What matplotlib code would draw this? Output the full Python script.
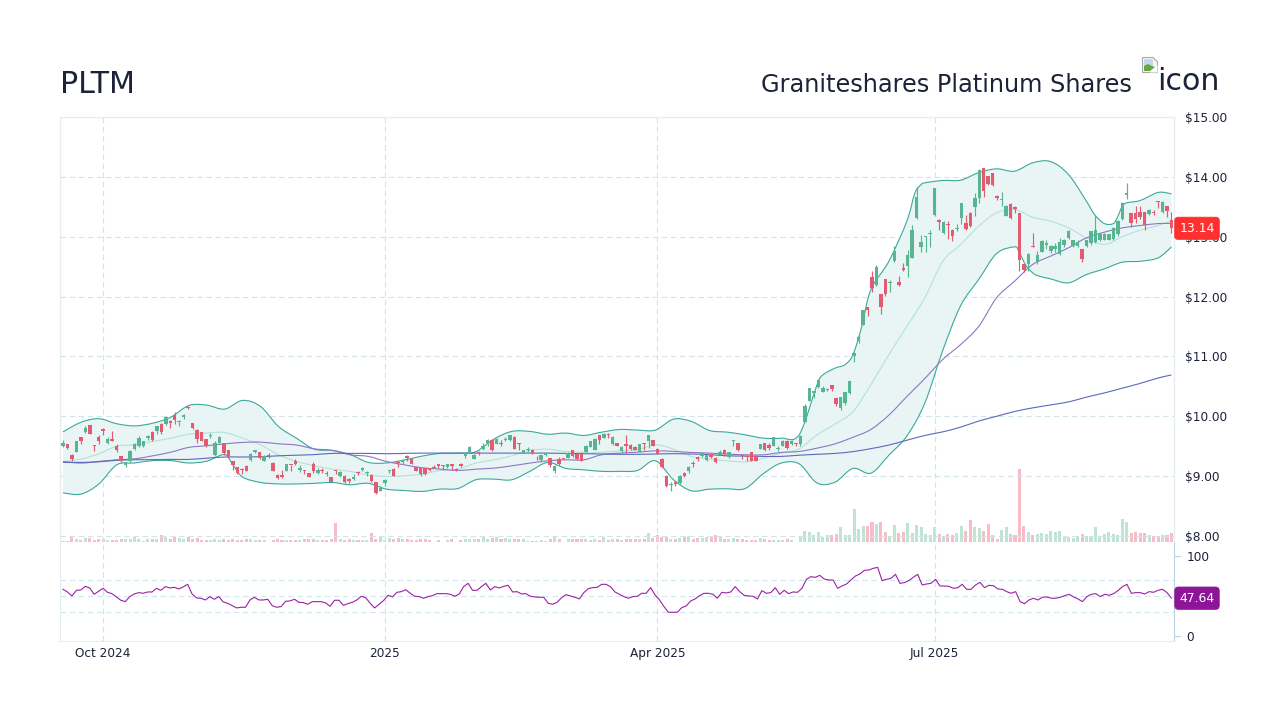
import numpy as np
import matplotlib
matplotlib.use("Agg")
import matplotlib.pyplot as plt
from matplotlib.patches import Polygon, Rectangle, PathPatch
from matplotlib.path import Path

ticker = "PLTM"
fund_name = "Graniteshares Platinum Shares"
month_labels = ["Oct 2024", "2025", "Apr 2025", "Jul 2025"]
month_pos = [9, 72, 133, 195]
price_ticks = [8, 9, 10, 11, 12, 13, 14, 15]
last_price = 13.14
last_rsi = 47.64

opens = [9.50,9.54,9.35,9.40,9.65,9.73,9.85,9.52,9.65,9.79,
9.56,9.62,9.51,9.34,9.18,9.25,9.45,9.50,9.51,9.63,
9.73,9.75,9.87,9.87,9.92,10.03,9.90,9.98,10.16,9.88,
9.77,9.73,9.62,9.67,9.36,9.56,9.55,9.43,9.25,9.15,
9.12,9.17,9.27,9.40,9.40,9.26,9.36,9.22,9.02,9.02,
9.08,9.19,9.26,9.10,9.09,9.05,9.21,9.06,9.11,9.06,
8.99,9.09,9.00,9.01,8.96,8.96,9.06,9.11,9.05,9.02,
8.90,8.76,8.89,9.08,9.12,9.24,9.23,9.33,9.29,9.16,
9.14,9.14,9.13,9.16,9.20,9.19,9.15,9.20,9.12,
9.20,9.33,9.41,9.29,9.40,9.45,9.55,9.60,9.54,9.56,
9.60,9.60,9.65,9.55,9.39,9.43,9.43,9.34,9.27,9.36,
9.30,9.09,9.28,9.30,9.31,9.44,9.37,9.39,9.40,9.49,
9.44,9.68,9.64,9.71,9.53,9.55,9.42,9.53,9.52,9.49,
9.41,9.55,9.59,9.60,9.46,9.29,9.00,8.85,8.91,8.89,
9.06,9.08,9.22,9.32,9.34,9.27,9.37,9.31,9.36,9.44,
9.32,9.59,9.55,9.35,9.34,9.40,9.34,9.46,9.55,9.52,
9.51,9.45,9.51,9.59,9.53,9.55,9.54,9.91,
10.26,10.39,10.49,10.41,10.44,10.52,10.31,10.14,10.23,10.39,11.01,11.25,
11.52,11.83,12.32,12.19,12.05,12.29,12.23,12.60,12.24,12.47,12.51,12.65,13.32,12.83,12.99,13.04,13.36,13.28,13.06,13.20,13.11,13.13,13.32,13.23,13.39,13.50,13.65,14.15,14.02,
14.06,13.68,13.61,13.35,13.55,13.50,13.40,12.54,12.54,12.85,12.57,12.75,12.86,12.76,12.79,12.71,12.87,12.98,12.84,12.85,12.79,12.84,12.90,12.91,12.94,12.95,12.95,12.96,13.04,13.30,13.70,13.40,13.40,13.42,13.41,13.38,13.41,13.59,13.41,13.51,13.28]

highs = [9.60,9.54,9.37,9.59,9.66,9.83,9.86,9.52,9.68,9.80,
9.65,9.75,9.54,9.34,9.23,9.43,9.55,9.67,9.59,9.69,
9.76,9.84,9.88,10.00,9.94,10.07,9.94,10.04,10.18,9.89,
9.78,9.74,9.62,9.72,9.58,9.67,9.56,9.44,9.26,9.16,
9.14,9.19,9.38,9.44,9.41,9.35,9.38,9.23,9.04,9.11,
9.21,9.19,9.29,9.18,9.11,9.06,9.23,9.13,9.14,9.08,
8.99,9.11,9.08,9.02,8.97,9.04,9.08,9.15,9.09,9.03,
8.91,8.84,8.95,9.11,9.13,9.25,9.28,9.35,9.30,9.16,
9.15,9.14,9.14,9.19,9.20,9.19,9.21,9.20,9.14,
9.22,9.39,9.50,9.37,9.42,9.55,9.62,9.61,9.64,9.60,
9.65,9.69,9.67,9.56,9.44,9.49,9.45,9.34,9.36,9.40,
9.30,9.18,9.32,9.30,9.40,9.44,9.38,9.40,9.52,9.59,
9.63,9.69,9.72,9.72,9.67,9.56,9.50,9.69,9.54,9.50,
9.54,9.55,9.69,9.61,9.47,9.30,9.02,8.90,8.92,9.02,
9.07,9.17,9.25,9.33,9.40,9.37,9.39,9.32,9.44,9.45,
9.41,9.61,9.56,9.35,9.35,9.41,9.35,9.54,9.56,9.55,
9.65,9.50,9.60,9.60,9.60,9.55,9.69,10.20,
10.48,10.42,10.61,10.51,10.48,10.52,10.31,10.33,10.41,10.59,11.07,11.36,
11.78,11.83,12.42,12.53,12.05,12.30,12.27,12.85,12.35,12.56,12.78,13.20,13.83,13.03,13.02,13.12,13.82,13.30,13.27,13.27,13.13,13.22,13.57,13.36,13.42,13.73,14.13,14.15,14.02,
14.06,13.69,13.74,13.53,13.56,13.52,13.40,12.55,12.73,13.07,12.76,12.94,12.94,12.86,12.89,12.98,12.96,13.12,12.95,12.95,12.80,12.95,13.10,13.37,13.07,13.07,13.05,13.17,13.28,13.58,13.90,13.40,13.51,13.51,13.41,13.47,13.45,13.60,13.59,13.51,13.42]

lows = [9.49,9.45,9.26,9.40,9.54,9.72,9.70,9.42,9.54,9.69,
9.53,9.59,9.40,9.24,9.15,9.24,9.44,9.49,9.49,9.60,
9.59,9.70,9.71,9.85,9.81,9.87,9.84,9.95,10.12,9.78,
9.55,9.58,9.49,9.63,9.34,9.55,9.35,9.30,9.10,9.04,
9.03,9.08,9.26,9.38,9.29,9.25,9.31,9.08,8.95,8.97,
9.08,9.08,9.19,9.07,9.03,8.98,9.06,9.03,9.05,9.00,
8.90,9.03,8.99,8.89,8.89,8.94,9.02,9.09,9.01,8.91,
8.71,8.75,8.84,9.06,9.00,9.15,9.21,9.25,9.20,9.08,
9.01,9.02,9.08,9.13,9.14,9.11,9.14,9.11,9.09,
9.15,9.30,9.40,9.28,9.35,9.44,9.50,9.42,9.53,9.51,
9.59,9.59,9.45,9.44,9.38,9.40,9.37,9.27,9.24,9.33,
9.16,9.05,9.18,9.29,9.30,9.32,9.27,9.25,9.39,9.48,
9.43,9.54,9.63,9.64,9.52,9.50,9.41,9.39,9.44,9.43,
9.40,9.44,9.47,9.50,9.37,9.13,8.82,8.75,8.84,8.87,
8.98,9.06,9.15,9.25,9.32,9.26,9.30,9.22,9.35,9.34,
9.31,9.51,9.42,9.28,9.26,9.26,9.25,9.45,9.42,9.44,
9.51,9.42,9.50,9.46,9.52,9.50,9.51,9.90,
10.25,10.31,10.48,10.40,10.42,10.42,10.17,10.10,10.19,10.38,10.90,11.23,
11.52,11.67,12.07,12.17,11.71,12.01,12.07,12.57,12.17,12.42,12.33,12.64,13.30,12.75,12.75,12.83,13.34,13.11,13.04,12.96,12.93,13.09,13.22,13.12,13.17,13.34,13.57,13.66,13.86,
13.85,13.62,13.51,13.34,13.30,13.40,12.42,12.41,12.42,12.82,12.55,12.74,12.79,12.73,12.74,12.70,12.83,12.96,12.83,12.83,12.57,12.83,12.86,12.89,12.93,12.94,12.94,12.94,13.02,13.28,13.63,13.17,13.23,13.30,13.11,13.36,13.37,13.48,13.39,13.33,13.07]

closes = [9.56,9.47,9.29,9.58,9.58,9.81,9.71,9.50,9.59,9.76,
9.62,9.59,9.43,9.25,9.22,9.42,9.54,9.64,9.58,9.67,
9.61,9.84,9.74,9.98,9.89,9.94,9.91,10.02,10.14,9.80,
9.62,9.59,9.50,9.69,9.55,9.65,9.38,9.32,9.18,9.05,
9.11,9.09,9.37,9.44,9.30,9.34,9.34,9.09,8.97,8.99,
9.21,9.18,9.20,9.14,9.08,8.99,9.08,9.10,9.09,9.04,
8.91,9.08,9.07,8.90,8.92,8.98,9.05,9.13,9.07,8.92,
8.72,8.80,8.94,9.10,9.01,9.22,9.27,9.31,9.21,9.08,
9.04,9.04,9.10,9.14,9.17,9.17,9.20,9.17,9.10,
9.17,9.38,9.49,9.36,9.38,9.50,9.61,9.44,9.62,9.54,
9.62,9.69,9.46,9.54,9.44,9.45,9.38,9.33,9.35,9.38,
9.18,9.17,9.21,9.29,9.39,9.33,9.29,9.26,9.50,9.59,
9.62,9.61,9.70,9.69,9.66,9.51,9.49,9.50,9.46,9.44,
9.53,9.54,9.69,9.51,9.37,9.15,8.84,8.86,8.87,9.01,
9.00,9.15,9.21,9.29,9.39,9.36,9.32,9.24,9.41,9.37,
9.40,9.60,9.44,9.34,9.32,9.26,9.26,9.53,9.43,9.47,
9.65,9.47,9.59,9.47,9.59,9.54,9.67,10.18,
10.47,10.42,10.61,10.48,10.46,10.46,10.21,10.32,10.41,10.59,11.05,11.33,
11.77,11.78,12.15,12.49,11.83,12.04,12.25,12.76,12.20,12.45,12.70,13.12,13.66,12.92,13.00,13.07,13.81,13.24,13.25,13.19,13.01,13.15,13.56,13.13,13.18,13.65,14.12,13.76,13.88,
13.87,13.64,13.62,13.52,13.32,13.47,12.61,12.45,12.71,12.83,12.70,12.93,12.90,12.84,12.84,12.91,12.95,13.10,12.94,12.91,12.63,12.94,13.09,13.12,13.05,13.05,13.04,13.15,13.27,13.57,13.73,13.23,13.30,13.33,13.20,13.44,13.39,13.58,13.58,13.43,13.14]

volumes_k = [4,4,14,8,5,11,11,5,8,8,
5,5,5,8,8,8,14,10,4,8,
8,10,22,16,8,14,11,8,14,8,
11,5,5,5,8,5,8,5,8,5,
5,8,8,5,5,5,1,5,8,5,
5,5,5,5,8,8,8,5,5,5,
8,58,8,5,8,5,5,5,5,26,
8,16,5,11,8,11,8,8,5,5,
8,8,5,1,5,
1,5,8,1,5,10,8,8,10,16,
8,11,14,8,11,8,10,10,8,4,
4,4,7,4,8,16,8,1,8,8,
8,8,8,5,8,5,16,5,8,8,
5,8,8,8,8,8,26,11,20,14,
16,8,8,11,14,19,8,11,11,16,
16,22,14,8,8,11,8,8,5,5,
5,11,8,5,5,5,5,8,5,1,
15,32,29,20,29,15,22,20,23,44,
20,20,98,38,47,47,59,53,59,29,
17,50,26,29,56,26,50,44,23,20,
44,23,17,23,20,26,47,32,65,44,
41,32,53,20,8,35,44,23,20,218,
47,29,20,23,26,23,32,29,32,14,
14,11,17,23,17,17,44,17,23,29,
23,20,68,59,26,29,26,26,20,17,
17,20,20,26]

rsi = [58.75,55.4,50.4,57.5,57.9,62.5,60.4,52.5,56.25,60,55,53.3,49.2,45,43.3,49.6,52.9,54.6,53.75,55.4,55.4,60,57.5,62.1,60.4,61.25,59.2,61.7,65,52.9,47.9,47.5,45.4,49.6,46.25,49.6,42.9,41.25,38.3,35.4,36.25,36.25,45.4,48.75,45.4,45.4,46.25,38.3,36.25,37.1,43.75,44.2,46.25,42.5,42.1,40,43.3,43.3,43.3,41.7,37.5,45,45,38.75,40.8,42.5,45.4,50,48.3,41.25,35.4,40,44.6,51.25,49.2,55,55.8,58.3,53.75,50,49.6,47.5,49.6,50.8,53.3,53.3,53.3,52.5,50,52.9,62.1,66.25,57.5,57.5,62.1,66.25,57.9,62.1,60.4,62.5,63.75,55.4,55.8,52.9,53.3,50,49.2,48.75,48.75,41.25,40,42.5,48.3,52.1,50.4,48.75,46.7,54.6,59.6,60.8,61.25,65,65,62.1,55.4,52.5,
49.6,47.5,49.6,50,53.75,53.75,60.8,51.7,45.4,37.1,30,30,30,35.8,37.9,44.2,46.7,50.8,53.75,53.75,52.5,47.5,55,54.2,55.4,62.1,55.8,51.25,50.4,50,46.7,57.1,53.75,54.6,60.8,52.5,57.5,53.3,55.4,55,60,71.25,74.6,73.75,76.25,71.7,70.4,70.4,60,62.9,65.4,70.4,75.4,77.9,82.5,82.9,85,86.25,69.6,71.25,72.5,77.5,66.25,67.1,69.6,73.75,77.5,64.2,65.4,66.25,71.25,62.9,62.9,62.5,60,60.8,65,58.75,58.75,64.2,67.5,60.8,63.75,63.3,59.2,58.75,55.8,53.75,55.8,43.3,40.8,45.4,47.5,45.4,48.75,49.2,47.5,47.5,48.75,50.8,52.5,49.2,46.7,43.3,49.6,52.5,53.3,49.6,52.5,51.25,53.3,57.1,62.1,65,53.75,54.6,54.6,52.9,55.8,55,57.5,58.75,54.6,47.64]

band_step = 4.017
bb_upper = [9.74,9.90,9.96,9.875,9.84,9.885,9.985,10.18,10.187,10.12,10.265,10.165,9.83,9.635,9.45,9.43,9.36,9.23,9.22,9.27,9.335,9.38,
9.385,9.41,9.62,9.747,9.747,9.70,9.72,9.68,9.735,9.78,9.77,9.77,9.953,9.914,9.763,9.735,9.69,9.635,9.635,9.69,
10.53,10.805,11.03,12.12,12.59,13.26,13.9,13.94,13.945,14.07,14.134,14.095,14.234,14.256,14.04,13.594,13.22,13.51,13.605,13.74,13.716]
bb_lower = [8.72,8.70,8.87,9.19,9.22,9.26,9.26,9.22,9.25,9.36,8.985,8.895,8.87,8.87,8.88,8.895,8.856,8.88,8.784,8.76,8.745,8.784,
8.794,8.94,8.95,8.94,9.08,9.229,9.13,9.106,9.08,9.08,9.095,9.257,8.94,8.755,8.783,8.789,8.794,9.04,9.218,9.206,
8.886,8.9,9.13,9.05,9.35,9.67,10.22,11.1,11.85,12.285,12.72,12.83,12.40,12.296,12.229,12.368,12.463,12.574,12.59,12.647,12.83]
bb_mid = [9.245,9.285,9.375,9.50,9.525,9.58,9.635,9.70,9.72,9.73,9.635,9.525,9.357,9.246,9.173,9.118,9.08,9.02,8.995,9.006,9.034,9.095,
9.12,9.218,9.273,9.34,9.43,9.45,9.413,9.396,9.396,9.424,9.44,9.524,9.452,9.33,9.285,9.257,9.24,9.3,9.385,9.457,
9.69,9.87,10.08,10.53,11.03,11.5,11.98,12.59,12.87,13.176,13.4,13.454,13.326,13.26,13.148,12.98,12.87,13.0,13.11,13.187,13.27]
sma_50 = [9.245,9.218,9.246,9.273,9.29,9.34,9.40,9.48,9.508,9.54,9.563,9.569,9.54,9.52,9.457,9.43,9.357,9.33,9.246,9.19,9.14,9.118,
9.095,9.117,9.134,9.173,9.218,9.257,9.273,9.273,9.357,9.385,9.40,9.424,9.413,9.396,9.385,9.368,9.357,9.357,9.396,9.413,
9.468,9.54,9.65,9.78,10.02,10.33,10.63,10.95,11.2,11.5,11.98,12.257,12.535,12.675,12.814,12.98,13.076,13.148,13.187,13.22,13.22]
sma_200 = [9.23,9.23,9.24,9.265,9.275,9.275,9.28,9.28,9.30,9.32,9.32,9.325,9.34,9.35,9.36,9.38,9.38,9.38,9.375,9.38,9.385,9.385,
9.385,9.385,9.385,9.385,9.385,9.385,9.38,9.375,9.37,9.365,9.365,9.37,9.375,9.37,9.36,9.34,9.335,9.33,9.33,9.35,
9.365,9.38,9.41,9.46,9.52,9.60,9.68,9.74,9.82,9.92,10.0,10.08,10.14,10.19,10.24,10.32,10.39,10.47,10.55,10.64,10.69]

# further readings at sharp bends of the bands, by candle number
upper_extra_pos = [170, 174.9, 178.7, 190.6, 192, 230.8, 235, 236, 238]
upper_extra_val = [10.69, 10.86, 11.5, 13.73, 13.87, 13.37, 13.22, 13.34, 13.566]
lower_extra_pos = [38, 213.8, 215.5, 218]
lower_extra_val = [9.19, 12.76, 12.51, 12.35]

INK = "#1c2238"
GRID = "#d2e4ea"
EDGE = "#e3edf2"
UP = "#57b592"
DOWN = "#e25b70"
UP_VOL = "#bfe4d4"
DOWN_VOL = "#f9bcc7"

W, H = 1280, 720
fig = plt.figure(figsize=(W / 100, H / 100), dpi=100, facecolor="white")
plt.rcParams["font.family"] = ["DejaVu Sans"]
DASH = (0, (5, 3.2))

def px_axes(l, t, r, b):
    return fig.add_axes([l / W, 1 - b / H, (r - l) / W, (b - t) / H])

def curve_parts(x, y):
    # smooth curve through the read points, drawn as Bezier segments
    p = np.column_stack([x, y])
    q = np.vstack([p[0], p, p[-1]])
    verts, codes = [p[0]], [Path.MOVETO]
    for i in range(1, len(q) - 2):
        verts += [q[i] + (q[i + 1] - q[i - 1]) / 6, q[i + 1] - (q[i + 2] - q[i]) / 6, q[i + 1]]
        codes += [Path.CURVE4] * 3
    return np.array(verts), codes

def draw_curve(a, x, y, color, lw, z):
    v, cd = curve_parts(x, y)
    a.add_patch(PathPatch(Path(v, cd), fill=False, ec=color, lw=lw, zorder=z))

def merged(pos, val, extra_pos, extra_val):
    xs = np.concatenate([pos, extra_pos])
    ys = np.concatenate([val, extra_val])
    order = np.argsort(xs)
    return xs[order], ys[order]

ax = px_axes(60, 117, 1174, 542)
ax_v = ax.twinx()
ax_r = px_axes(60, 542, 1174, 641)

n = len(closes)
idx = np.arange(n)
o, h, l, c = map(np.array, (opens, highs, lows, closes))
up = c >= o
x_lim = (-0.67, 248.57)

ax.set_zorder(2)
ax_v.set_zorder(1)
ax.patch.set_visible(False)

band_x = np.arange(len(bb_upper)) * band_step
band_x[-1] = n - 1
ux, uy = merged(band_x, bb_upper, upper_extra_pos, upper_extra_val)
lx, ly = merged(band_x, bb_lower, lower_extra_pos, lower_extra_val)

uv, uc = curve_parts(ux, uy)
lv, lc = curve_parts(lx[::-1], ly[::-1])
lc = [Path.LINETO] + lc[1:]
fill_v = np.vstack([uv, lv, uv[:1]])
fill_c = uc + lc + [Path.CLOSEPOLY]
ax.add_patch(PathPatch(Path(fill_v, fill_c), fc="#e9f5f5", ec="none", lw=0, zorder=1))
draw_curve(ax, ux, uy, "#3aa99b", 0.8, 2)
draw_curve(ax, lx, ly, "#3aa99b", 0.8, 2)
draw_curve(ax, band_x, bb_mid, "#b5e3d8", 0.85, 2)
draw_curve(ax, band_x, sma_50, "#8f76c4", 0.8, 3)
draw_curve(ax, band_x, sma_200, "#5c69bb", 0.8, 3)

colors = np.where(up, UP, DOWN)
ax.vlines(idx, l, h, colors=colors, lw=0.85, zorder=4)
ax.bar(idx, np.maximum(np.abs(c - o), 0.015), bottom=np.minimum(o, c), width=0.78,
       color=colors, lw=0, zorder=5)

ax_v.bar(idx, np.array(volumes_k) * 1000, width=0.68,
         color=np.where(up, UP_VOL, DOWN_VOL), lw=0, zorder=2)
ax_v.set_ylim(0, 1275000)
ax_v.set_yticks([])

ax.set_xlim(*x_lim)
ax_v.set_xlim(*x_lim)
ax.set_ylim(7.9, 15)
ax.set_yticks(price_ticks)
ax.set_yticklabels([f"${p:.2f}" for p in price_ticks])
ax.yaxis.tick_right()
ax.tick_params(axis="y", length=0, pad=8, labelsize=8.7, labelcolor=INK)
ax.set_xticks(month_pos)
ax.tick_params(axis="x", length=0, labelbottom=False)
ax.grid(True, color=GRID, lw=0.8, ls=DASH, zorder=0)
ax.set_axisbelow(True)

rsi_x = np.linspace(0, n - 1, len(rsi))
ax_r.plot(rsi_x, rsi, color="#9b22a3", lw=0.8, zorder=3)
ax_r.set_xlim(*x_lim)
ax_r.set_ylim(-6, 118)
ax_r.set_yticks([0, 100])
ax_r.yaxis.tick_right()
ax_r.tick_params(axis="y", length=5, width=0.8, color="#b8d4de", pad=4, labelsize=8.7, labelcolor=INK)
ax_r.set_xticks(month_pos)
ax_r.set_xticklabels(month_labels)
ax_r.tick_params(axis="x", length=0, pad=4, labelsize=8.7, labelcolor=INK)
ax_r.grid(True, axis="x", color=GRID, lw=0.8, ls=DASH, zorder=0)
for level in (30, 50, 70):
    ax_r.axhline(level, color="#cfe8f0", lw=0.8, ls=DASH, zorder=1)

for a in (ax, ax_v, ax_r):
    for side in a.spines:
        a.spines[side].set_color(EDGE)
        a.spines[side].set_linewidth(0.8)
ax_r.spines["right"].set_color("#b8d4de")
ax_r.spines["top"].set_visible(False)
ax.spines["bottom"].set_visible(False)
ax_v.spines["bottom"].set_visible(False)

ax.annotate(f"{last_price:.2f}", xy=(1, last_price), xycoords=("axes fraction", "data"),
            xytext=(23, 0), textcoords="offset pixels", color="white", fontsize=8.9,
            ha="center", va="center", zorder=20, annotation_clip=False,
            bbox=dict(boxstyle="round,pad=0.38,rounding_size=0.3", fc="#ff3030", ec="#ff3030", lw=0.5))
ax_r.annotate(f"{last_rsi:.2f}", xy=(1, last_rsi), xycoords=("axes fraction", "data"),
              xytext=(23, 0), textcoords="offset pixels", color="white", fontsize=8.9,
              ha="center", va="center", zorder=20, annotation_clip=False,
              bbox=dict(boxstyle="round,pad=0.38,rounding_size=0.3", fc="#8e1599", ec="#8e1599", lw=0.5))

fig.text(60 / W, 1 - 93 / H, ticker, fontsize=21.6, color=INK, ha="left", va="baseline")
fig.text(1132 / W, 1 - 92 / H, fund_name, fontsize=17.3, color=INK, ha="right", va="baseline")
fig.text(1220 / W, 1 - 90 / H, "icon", fontsize=21.6, color=INK, ha="right", va="baseline")

# placeholder picture beside the word "icon"
deco = fig.add_axes([0, 0, 1, 1], zorder=30)
deco.set_xlim(0, W)
deco.set_ylim(H, 0)
deco.axis("off")
deco.add_patch(Polygon([(1142.5, 57.5), (1153, 57.5), (1157.5, 62), (1157.5, 72.5), (1142.5, 72.5)],
                       closed=True, fc="#f7f7f7", ec="#a8a8a8", lw=0.8))
deco.add_patch(Rectangle((1144, 59), 8.5, 8, fc="#c4d6f2", lw=0))
deco.add_patch(Polygon([(1144, 71), (1144, 66), (1148, 64), (1152, 66), (1155, 67), (1150, 71)],
                       closed=True, fc="#63a83c", lw=0))
deco.add_patch(Polygon([(1150, 72.5), (1157.5, 65), (1157.5, 72.5)], closed=True, fc="white", lw=0))

fig.savefig("out.png", dpi=100, facecolor="white")
